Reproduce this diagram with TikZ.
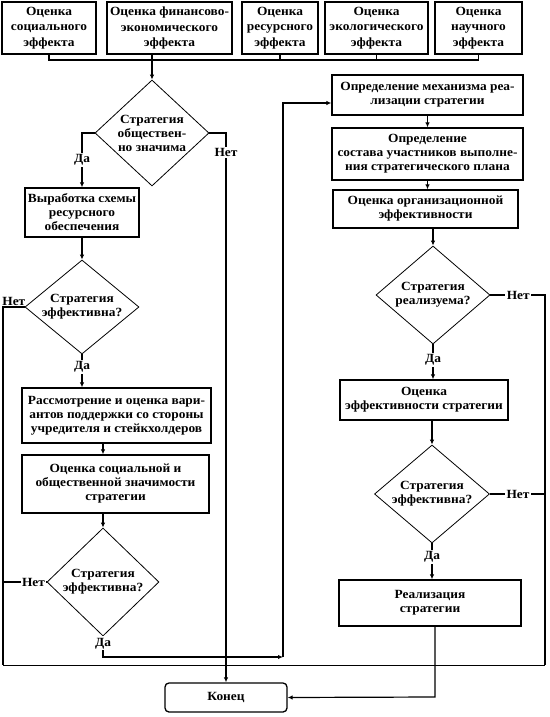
\documentclass[tikz,border=0pt]{standalone}
\usepackage{fontspec}
\setmainfont[FakeStretch=1.07]{Liberation Serif}
\usetikzlibrary{shapes.geometric,arrows.meta}
\begin{document}
\begin{tikzpicture}[x=1pt,y=-1pt,
  txt/.style={font=\fontsize{12.5}{14}\selectfont\bfseries},
  box/.style={txt,draw,line width=1.3pt,inner sep=1pt,align=center},
  topbox/.style={box,font=\fontsize{12.5}{15.5}\selectfont\bfseries,minimum height=52},
  dia/.style={draw,diamond,line width=0.8pt,inner sep=0pt},
  dtxt/.style={txt,align=center,inner sep=0pt},
  con/.style={line width=1.2pt},
  thin/.style={line width=0.8pt},
  arr/.style={con,-{Latex[length=5pt,width=4.5pt]}},
  yn/.style={txt,fill=white,inner sep=1.5pt}]
\useasboundingbox (0,0) rectangle (549,717);
% top row
\node[topbox,minimum width=94] (t1) at (49,28) {Оценка\\социального\\эффекта};
\node[topbox,minimum width=125] (t2) at (169.5,28) {Оценка финансово-\\экономического\\эффекта};
\node[topbox,minimum width=76] (t3) at (280,28) {Оценка\\ресурсного\\эффекта};
\node[topbox,minimum width=103] (t4) at (376.5,28) {Оценка\\экологического\\эффекта};
\node[topbox,minimum width=87] (t5) at (478.5,28) {Оценка\\научного\\эффекта};
\coordinate (bL) at (49,60);
\coordinate (bR) at (478.5,60);
% left column
\node[dia,minimum width=114,minimum height=106] (d1) at (152,133) {};
\node[dtxt] (d1t) at (d1.center) {Стратегия\\обществен-\\но значима};
\node[box,minimum width=114,minimum height=49] (b1) at (82,212.5) {Выработка схемы\\ресурсного\\обеспечения};
\node[dia,minimum width=114,minimum height=94] (d2) at (82,307) {};
\node[dtxt] (d2t) at (d2.center) {Стратегия\\эффективна?};
\node[box,minimum width=189,minimum height=55] (b3) at (116.5,415.5) {Рассмотрение и оценка вари-\\антов поддержки со стороны\\учредителя и стейкхолдеров};
\node[box,minimum width=187,minimum height=58] (b4) at (115.5,484) {Оценка социальной и\\общественной значимости\\стратегии};
\node[dia,minimum width=112,minimum height=108] (d3) at (103,582) {};
\node[dtxt] (d3t) at (d3.center) {Стратегия\\эффективна?};
\node[box,rounded corners=4pt,minimum width=122,minimum height=29] (fin) at (226,697.5) {Конец};
% right column
\node[box,minimum width=191,minimum height=40] (r1) at (427.5,95) {Определение механизма реа-\\лизации стратегии};
\node[box,minimum width=191,minimum height=52] (r2) at (427.5,154) {Определение\\состава участников выполне-\\ния стратегического плана};
\node[box,minimum width=185,minimum height=38] (r3) at (425.5,209) {Оценка организационной\\эффективности};
\node[dia,minimum width=114,minimum height=98] (dr1) at (433,295) {};
\node[dtxt] (dr1t) at (dr1.center) {Стратегия\\реализуема?};
\node[box,minimum width=168,minimum height=40] (r4) at (424,400) {Оценка\\эффективности стратегии};
\node[dia,minimum width=115,minimum height=98] (dr2) at (432,494) {};
\node[dtxt] (dr2t) at (dr2.center) {Стратегия\\эффективна?};
\node[box,minimum width=182,minimum height=46] (r5) at (430,603) {Реализация\\стратегии};
% helper coordinates
\coordinate (BL) at (3,665);
\coordinate (BR) at (545,665);
\coordinate (dj) at (283,657);
\coordinate (ya) at (0,103);
\coordinate (rk) at (435,697);
% connectors
\draw[thin] (BL) -- (BR);
\draw[con] (t1.south) -- (bL) -- (bR) -- (t5.south);
\draw[con] (t3.south) -- (t3.south |- bL);
\draw[con] (t4.south) -- (t4.south |- bL);
\draw[arr] (d1.north |- t2.south) -- (d1.north);
\draw[arr] (d1.west) -| node[yn,pos=0.75]{Да} (b1.north);
\draw[arr] (d1.east) -| node[yn,pos=0.518]{Нет} (fin.north);
\draw[arr] (b1.south -| d2.north) -- (d2.north);
\draw[con] (d2.west) -- node[txt,above,inner sep=1pt]{Нет} (d2.west -| BL) -- (BL);
\draw[arr] (d2.south) -- node[yn,pos=0.38]{Да} (d2.south |- b3.north);
\draw[arr] (b3.south -| d3.north) -- (b4.north -| d3.north);
\draw[arr] (b4.south -| d3.north) -- (d3.north);
\draw[con] (d3.west) -- node[yn,pos=0.3]{Нет} (d3.west -| BL);
\draw[arr] (d3.south) |- node[yn,pos=0.17]{Да} (dj);
\draw[arr] (dj) |- (r1.west |- ya);
\draw[arr] (r1.south) -- (r2.north);
\draw[arr] (r2.south) -- (r2.south |- r3.north);
\draw[arr] (r3.south -| dr1.north) -- (dr1.north);
\draw[con] (dr1.east) -- node[yn,pos=0.51]{Нет} (dr1.east -| BR) -- (BR);
\draw[arr] (dr1.south) -- node[yn,pos=0.44]{Да} (dr1.south |- r4.north);
\draw[arr] (r4.south -| dr2.north) -- (dr2.north);
\draw[con] (dr2.east) -- node[yn,pos=0.51]{Нет} (dr2.east -| BR);
\draw[arr] (dr2.south) -- node[yn,pos=0.38]{Да} (dr2.south |- r5.north);
\draw[arr] (r5.south -| rk) -- (rk) -- (fin.east);
\end{tikzpicture}
\end{document}
